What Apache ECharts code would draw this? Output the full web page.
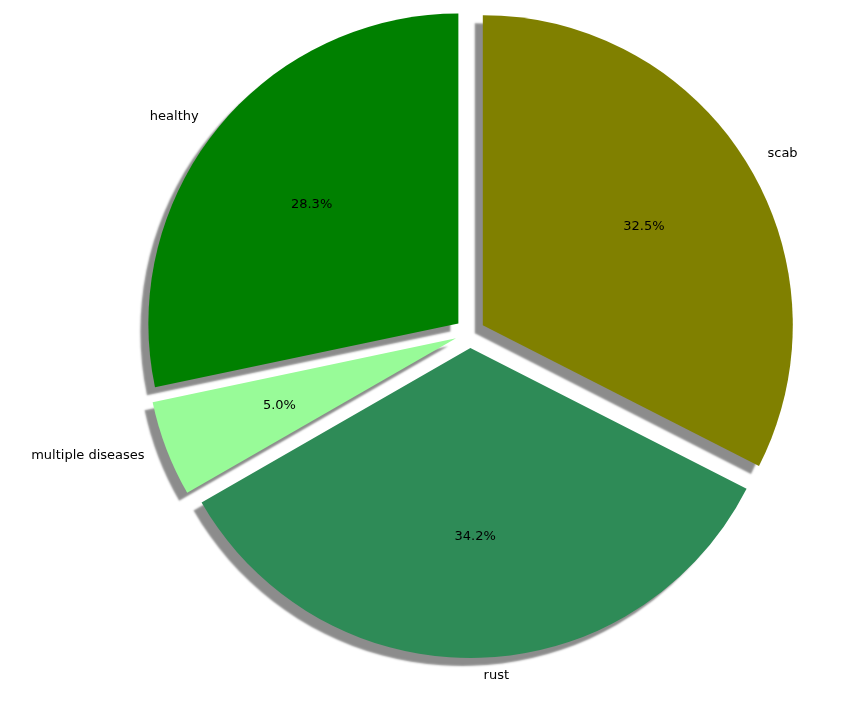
<!DOCTYPE html>
<html>
<head>
<meta charset="utf-8">
<script src="https://cdn.jsdelivr.net/npm/echarts@6/dist/echarts.min.js"></script>
<style>html,body{margin:0;padding:0;background:#fff}#main{width:847px;height:706px}</style>
</head>
<body>
<div id="main"></div>
<script>
var categories = ['healthy', 'multiple diseases', 'rust', 'scab'];
var shares = [28.3, 5.0, 34.2, 32.5];
var colors = ['#008000', '#98FB98', '#2E8B57', '#808000'];

var chart = echarts.init(document.getElementById('main'));

function buildData(withColor){
	return categories.map(function(name, i){
		return {
			name: name,
			value: shares[i],
			selected: true,
			itemStyle: withColor ? { color: colors[i] } : { color: 'rgba(0,0,0,0)' }
		};
	});
}

var option = {
	backgroundColor: '#fff',
	textStyle: { fontFamily: 'DejaVu Sans' },
	animation: false,
	series: [
		{
			type: 'pie',
			center: [470, 333],
			radius: [0, 310],
			startAngle: 90,
			clockwise: false,
			selectedMode: 'multiple',
			selectedOffset: 15,
			silent: true,
			itemStyle: {
				shadowColor: 'rgba(0,0,0,0.45)',
				shadowBlur: 2,
				shadowOffsetX: -8,
				shadowOffsetY: 8
			},
			label: {
				show: true,
				position: 'outside',
				formatter: '{b}',
				color: '#000',
				fontSize: 13,
				fontFamily: 'DejaVu Sans'
			},
			labelLine: { show: false, length: 18, length2: 0 },
			data: buildData(true)
		},
		{
			type: 'pie',
			center: [470, 333],
			radius: [0, 372],
			startAngle: 90,
			clockwise: false,
			selectedMode: 'multiple',
			selectedOffset: 15,
			silent: true,
			label: {
				show: true,
				position: 'inside',
				formatter: function(p){ return p.value.toFixed(1) + '%'; },
				color: '#000',
				fontSize: 13,
				fontFamily: 'DejaVu Sans'
			},
			labelLine: { show: false },
			data: buildData(false)
		}
	]
};
chart.setOption(option);
</script>
</body>
</html>
